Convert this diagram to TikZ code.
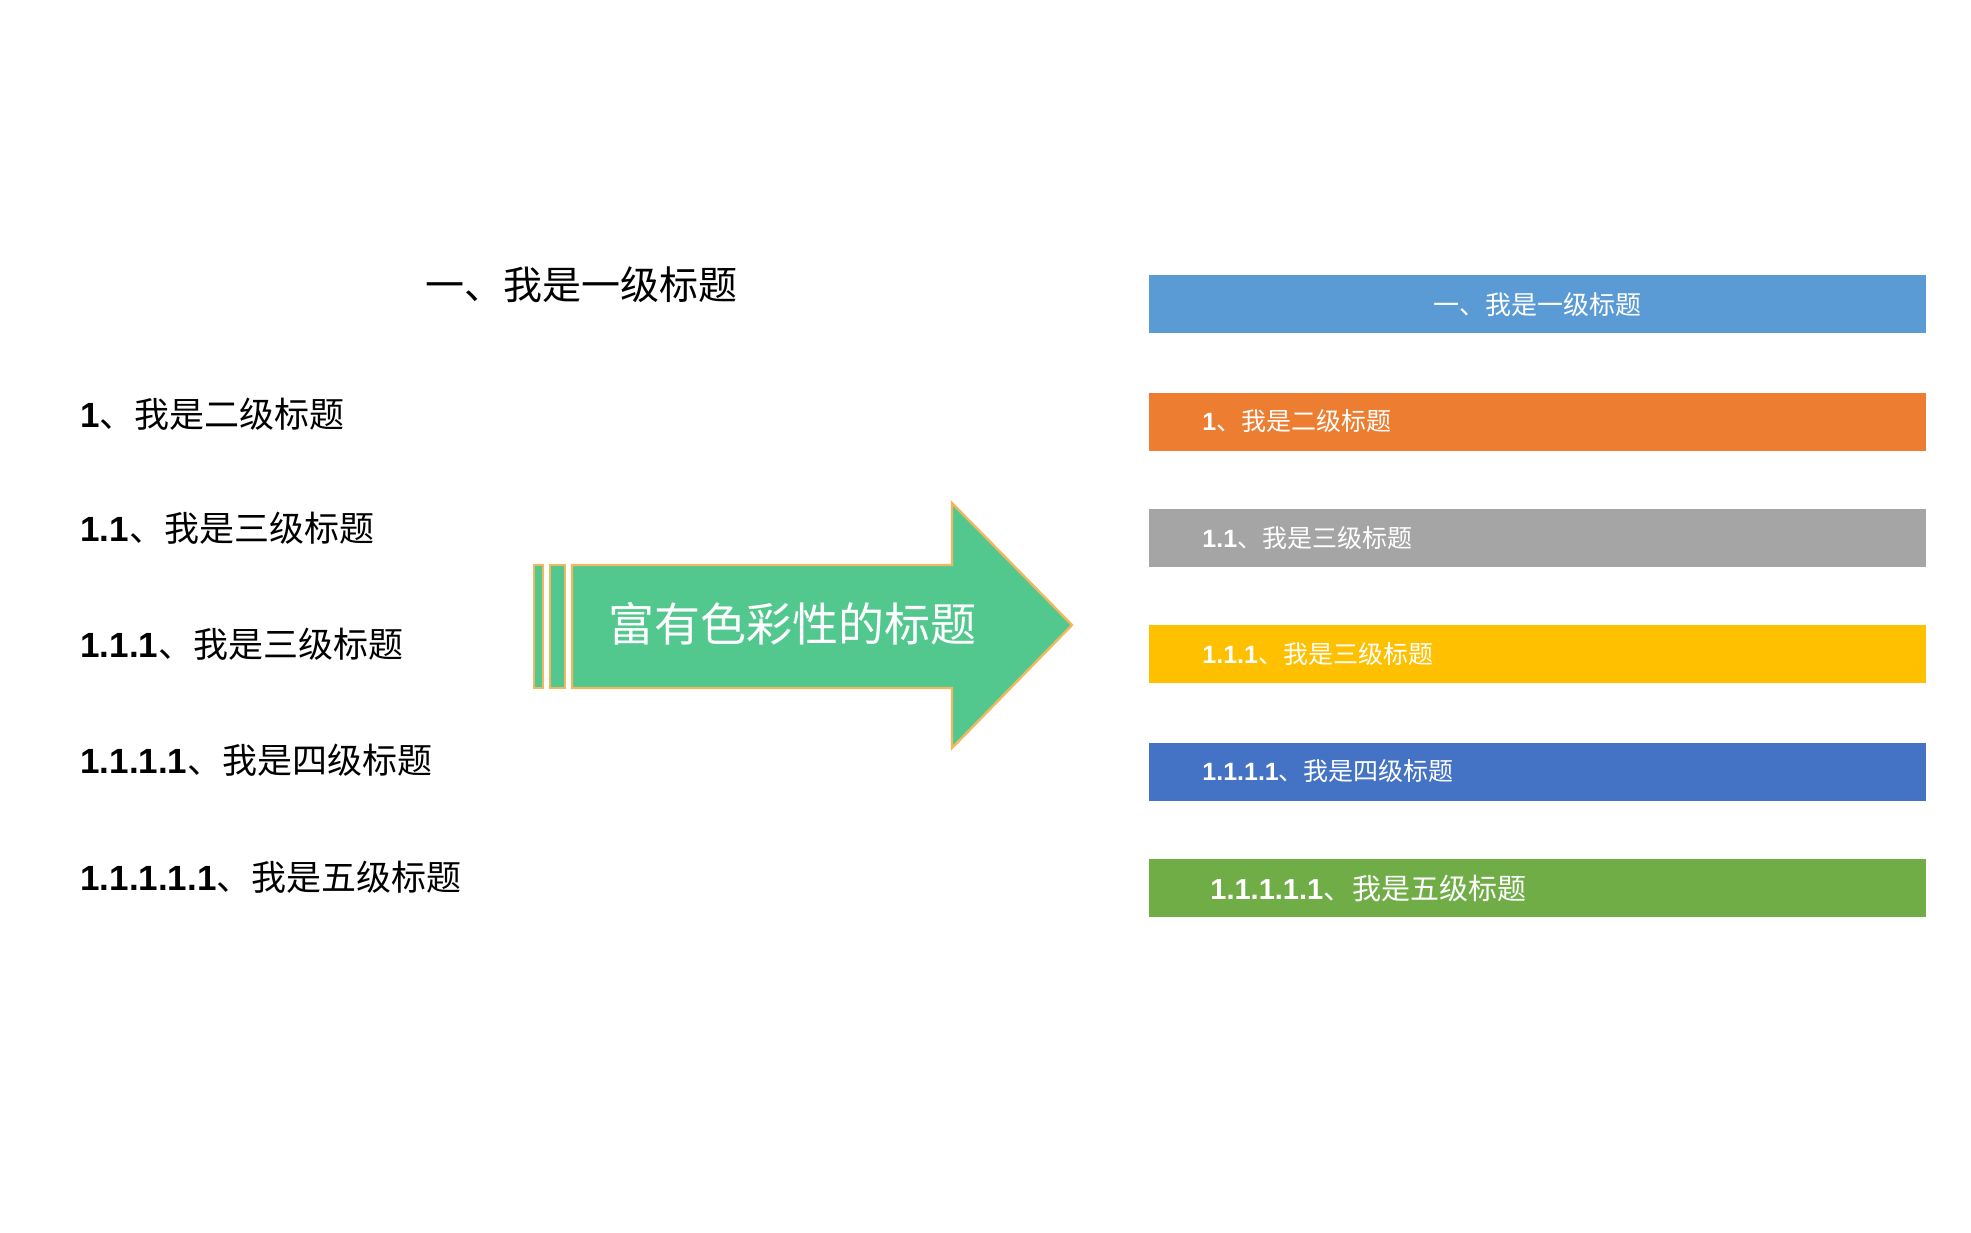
\documentclass[tikz,border=0pt]{standalone}
\usepackage{fontspec}
\setmainfont{Liberation Sans}
\newfontfamily\cjk{Noto Sans CJK SC}
\definecolor{barblue}{HTML}{5B9BD5}
\definecolor{barorange}{HTML}{ED7D31}
\definecolor{bargray}{HTML}{A5A5A5}
\definecolor{baryellow}{HTML}{FFC000}
\definecolor{bardeep}{HTML}{4472C4}
\definecolor{bargreen}{HTML}{70AD47}
\definecolor{arrowgreen}{HTML}{52C88F}
\definecolor{arrowedge}{HTML}{F2B860}
\begin{document}
\begin{tikzpicture}[x=0.5pt,y=-0.5pt,
            plain/.style={anchor=west, inner sep=0pt, font=\fontsize{17.5}{21}\selectfont},
            bar/.style={minimum width=388.5pt, minimum height=29pt, inner sep=0pt, anchor=north west},
            bartext/.style={anchor=west, inner sep=0pt, text=white, font=\fontsize{12.5}{15}\selectfont},
            stripe/.style={fill=arrowgreen, draw=arrowedge, line width=1.2pt}
        ]
        \useasboundingbox (0,0) rectangle (1971,1232);

        % Plain headings on the left
        \node[inner sep=0pt, font=\fontsize{19.5}{24}\selectfont\cjk] (h0) at (581,285) {一、我是一级标题};
        \node[plain] (h1) at (80,414) {\textbf{1}\cjk、我是二级标题};
        \node[plain] (h2) at (80,528) {\textbf{1.1}\cjk、我是三级标题};
        \node[plain] (h3) at (80,644) {\textbf{1.1.1}\cjk、我是三级标题};
        \node[plain] (h4) at (80,760) {\textbf{1.1.1.1}\cjk、我是四级标题};
        \node[plain] (h5) at (80,877) {\textbf{1.1.1.1.1}\cjk、我是五级标题};

        % Arrow in the middle
        \draw[stripe] (534,565) rectangle (543,688);
        \draw[stripe] (550,565) rectangle (565,688);
        \draw[stripe] (572,565) -- (952,565) -- (952,503) -- (1072,625)
            -- (952,748) -- (952,688) -- (572,688) -- cycle;
        \node[text=white, font=\fontsize{23}{28}\selectfont\cjk] (arrowtext) at (792,624) {富有色彩性的标题};

        % Coloured bars on the right
        \node[bar, fill=barblue]   (b0) at (1149,275) {};
        \node[bar, fill=barorange] (b1) at (1149,393) {};
        \node[bar, fill=bargray]   (b2) at (1149,509) {};
        \node[bar, fill=baryellow] (b3) at (1149,625) {};
        \node[bar, fill=bardeep]   (b4) at (1149,743) {};
        \node[bar, fill=bargreen]  (b5) at (1149,859) {};

        \node[inner sep=0pt, text=white, font=\fontsize{13}{16}\selectfont\cjk] (t0) at (b0.center) {一、我是一级标题};
        \node[bartext] (t1) at (1202,421) {\textbf{1}\cjk、我是二级标题};
        \node[bartext] (t2) at (1202,538) {\textbf{1.1}\cjk、我是三级标题};
        \node[bartext] (t3) at (1202,654) {\textbf{1.1.1}\cjk、我是三级标题};
        \node[bartext] (t4) at (1202,771) {\textbf{1.1.1.1}\cjk、我是四级标题};
        \node[bartext, font=\fontsize{14.5}{18}\selectfont] (t5) at (1210,888) {\textbf{1.1.1.1.1}\cjk、我是五级标题};
    \end{tikzpicture}
\end{document}
